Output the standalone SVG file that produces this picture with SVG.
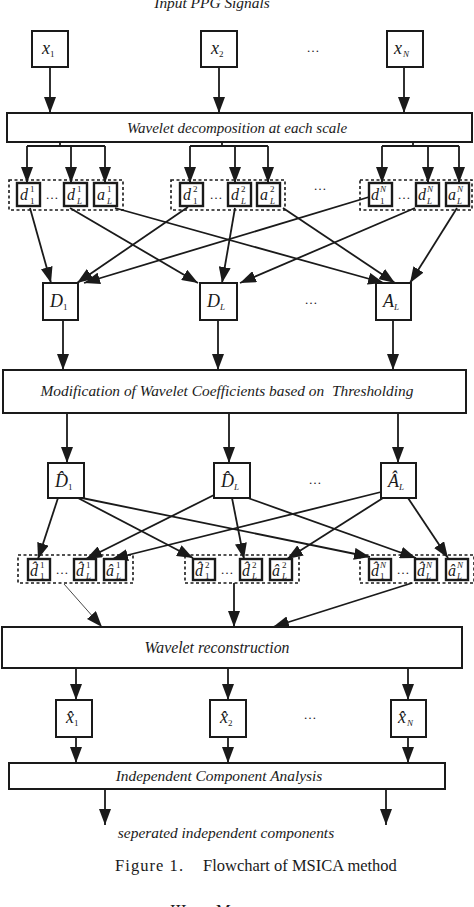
<svg xmlns="http://www.w3.org/2000/svg" width="474" height="907" viewBox="0 0 474 907">
<style>
.box{fill:#fff;stroke:#1a1a1a;stroke-width:2}
.cbox{fill:#fff;stroke:#1a1a1a;stroke-width:2.4}
.grp{fill:none;stroke:#1a1a1a;stroke-width:1.6;stroke-dasharray:3,2.5}
.ln{stroke:#1a1a1a;stroke-width:1.8;fill:none;marker-end:url(#ah)}
.thin{stroke:#1a1a1a;stroke-width:0.8;fill:none;marker-end:url(#ah)}
.br{stroke:#1a1a1a;stroke-width:1.8;fill:none}
.t{font-family:"Liberation Serif","DejaVu Serif",serif;font-style:italic;font-size:15.4px;fill:#1a1a1a}
.cap{font-family:"Liberation Serif","DejaVu Serif",serif;font-size:16.5px;fill:#1a1a1a}
.v{font-family:"Liberation Serif","DejaVu Serif",serif;font-style:italic;font-size:18px;fill:#1a1a1a}
.cv{font-family:"Liberation Serif","DejaVu Serif",serif;font-style:italic;font-size:16px;fill:#1a1a1a}
.s{font-family:"Liberation Serif","DejaVu Serif",serif;font-style:normal;font-size:9px}
.si{font-family:"Liberation Serif","DejaVu Serif",serif;font-style:italic;font-size:9px}
.dots{font-family:"Liberation Serif","DejaVu Serif",serif;font-size:13px;fill:#1a1a1a;text-anchor:middle}
</style>
<defs>
<marker id="ah" markerUnits="userSpaceOnUse" markerWidth="16" markerHeight="12" refX="16" refY="6" orient="auto">
<path d="M0,0 L16,6 L0,12 z" fill="#1a1a1a"/>
</marker>
</defs>

<text class="t" x="212" y="8" text-anchor="middle">Input PPG Signals</text>

<g id="connectors">
<line class="ln" x1="50" y1="67" x2="50" y2="113"/>
<line class="ln" x1="219" y1="67" x2="219" y2="113"/>
<line class="ln" x1="404" y1="67" x2="404" y2="113"/>
<polyline class="br" points="60,142 60,146"/>
<polyline class="br" points="27,146 105,146"/>
<line class="ln" x1="27" y1="146" x2="27" y2="183"/>
<line class="ln" x1="71" y1="146" x2="71" y2="183"/>
<line class="ln" x1="105" y1="146" x2="105" y2="183"/>
<polyline class="br" points="222,142 222,146"/>
<polyline class="br" points="190,146 268,146"/>
<line class="ln" x1="190" y1="146" x2="190" y2="183"/>
<line class="ln" x1="235" y1="146" x2="235" y2="183"/>
<line class="ln" x1="268" y1="146" x2="268" y2="183"/>
<polyline class="br" points="413,142 413,146"/>
<polyline class="br" points="382,146 459,146"/>
<line class="ln" x1="382" y1="146" x2="382" y2="183"/>
<line class="ln" x1="428" y1="146" x2="428" y2="183"/>
<line class="ln" x1="459" y1="146" x2="459" y2="183"/>

<line class="ln" x1="30" y1="208" x2="51" y2="283"/>
<line class="ln" x1="70" y1="208" x2="198" y2="283"/>
<line class="ln" x1="115" y1="208" x2="384" y2="283"/>
<line class="ln" x1="188" y1="207" x2="77" y2="283"/>
<line class="ln" x1="235" y1="208" x2="222" y2="283"/>
<line class="ln" x1="283" y1="208" x2="395" y2="283"/>
<line class="ln" x1="369" y1="197" x2="84" y2="283"/>
<line class="ln" x1="415" y1="208" x2="240" y2="283"/>
<line class="ln" x1="457" y1="208" x2="410" y2="283"/>

<line class="ln" x1="63" y1="320" x2="63" y2="370"/>
<line class="ln" x1="218" y1="320" x2="218" y2="370"/>
<line class="ln" x1="393" y1="320" x2="393" y2="370"/>

<line class="ln" x1="67" y1="413" x2="67" y2="463"/>
<line class="ln" x1="229" y1="413" x2="229" y2="463"/>
<line class="ln" x1="398" y1="413" x2="398" y2="463"/>

<line class="ln" x1="58" y1="498" x2="38" y2="559"/>
<line class="ln" x1="78" y1="498" x2="193" y2="558"/>
<line class="ln" x1="82" y1="498" x2="370" y2="557"/>
<line class="ln" x1="214" y1="495" x2="86" y2="559"/>
<line class="ln" x1="232" y1="498" x2="244" y2="559"/>
<line class="ln" x1="248" y1="498" x2="416" y2="558"/>
<line class="ln" x1="381" y1="492" x2="112" y2="559"/>
<line class="ln" x1="383" y1="498" x2="287" y2="559"/>
<line class="ln" x1="408" y1="498" x2="448" y2="558"/>

<line class="thin" x1="64" y1="584" x2="102" y2="627"/>
<line class="ln" x1="234" y1="583" x2="234" y2="627"/>
<line class="ln" x1="412" y1="583" x2="273" y2="627"/>

<line class="ln" x1="76" y1="668" x2="76" y2="700"/>
<line class="ln" x1="228" y1="668" x2="228" y2="700"/>
<line class="ln" x1="408" y1="668" x2="408" y2="700"/>
<line class="ln" x1="76" y1="737" x2="76" y2="763"/>
<line class="ln" x1="228" y1="737" x2="228" y2="763"/>
<line class="ln" x1="408" y1="737" x2="408" y2="763"/>
<line class="ln" x1="105" y1="789" x2="105" y2="825"/>
<line class="ln" x1="386" y1="789" x2="386" y2="825"/>
</g>

<g id="x1"><rect class="box" x="32" y="31" width="36" height="36"/><text class="v" x="42" y="54">x<tspan class="s" dy="3">1</tspan></text></g>
<g id="x2"><rect class="box" x="201" y="31" width="36" height="36"/><text class="v" x="211" y="54">x<tspan class="s" dy="3">2</tspan></text></g>
<text class="dots" x="313" y="52">…</text>
<g id="xN"><rect class="box" x="387" y="31" width="36" height="36"/><text class="v" x="394" y="54">x<tspan class="si" dx="1" dy="3">N</tspan></text></g>

<g id="decomp"><rect class="box" x="7" y="113" width="465" height="29"/><text class="t" x="237" y="133" text-anchor="middle" style="font-size:15px">Wavelet decomposition at each scale</text></g>

<g id="group1">
<rect class="grp" x="9" y="180" width="114" height="30"/>
<rect class="cbox" x="17" y="183" width="23" height="23"/><text class="cv" x="20" y="200">d<tspan class="s" x="30" y="192">1</tspan><tspan class="s" x="30" y="204">1</tspan></text>
<text class="dots" x="52" y="199">…</text>
<rect class="cbox" x="64" y="183" width="23" height="23"/><text class="cv" x="67" y="200">d<tspan class="s" x="77" y="192">1</tspan><tspan class="si" x="77" y="204">L</tspan></text>
<rect class="cbox" x="94" y="183" width="23" height="23"/><text class="cv" x="97" y="200">a<tspan class="s" x="107" y="192">1</tspan><tspan class="si" x="107" y="204">L</tspan></text>
</g>
<g id="group2">
<rect class="grp" x="171" y="180" width="114" height="30"/>
<rect class="cbox" x="180" y="183" width="23" height="23"/><text class="cv" x="183" y="200">d<tspan class="s" x="193" y="192">2</tspan><tspan class="s" x="193" y="204">1</tspan></text>
<text class="dots" x="216" y="199">…</text>
<rect class="cbox" x="228" y="183" width="23" height="23"/><text class="cv" x="231" y="200">d<tspan class="s" x="241" y="192">2</tspan><tspan class="si" x="241" y="204">L</tspan></text>
<rect class="cbox" x="257" y="183" width="23" height="23"/><text class="cv" x="260" y="200">a<tspan class="s" x="270" y="192">2</tspan><tspan class="si" x="270" y="204">L</tspan></text>
</g>
<text class="dots" x="320" y="190">…</text>
<g id="groupN">
<rect class="grp" x="360" y="180" width="112" height="30"/>
<rect class="cbox" x="369" y="183" width="23" height="23"/><text class="cv" x="371" y="200">d<tspan class="si" x="380" y="192">N</tspan><tspan class="s" x="380" y="204">1</tspan></text>
<text class="dots" x="404" y="199">…</text>
<rect class="cbox" x="416" y="183" width="23" height="23"/><text class="cv" x="418" y="200">d<tspan class="si" x="427" y="192">N</tspan><tspan class="si" x="427" y="204">L</tspan></text>
<rect class="cbox" x="446" y="183" width="23" height="23"/><text class="cv" x="448" y="200">a<tspan class="si" x="457" y="192">N</tspan><tspan class="si" x="457" y="204">L</tspan></text>
</g>

<g id="D1"><rect class="box" x="43" y="283" width="35" height="37"/><text class="v" x="50" y="307">D<tspan class="s" dy="3">1</tspan></text></g>
<g id="DL"><rect class="box" x="200" y="283" width="37" height="37"/><text class="v" x="207" y="307">D<tspan class="si" dy="3">L</tspan></text></g>
<text class="dots" x="311" y="304">…</text>
<g id="AL"><rect class="box" x="376" y="283" width="35" height="37"/><text class="v" x="383" y="307">A<tspan class="si" dy="3">L</tspan></text></g>

<g id="modify"><rect class="box" x="3" y="370" width="463" height="43"/><text class="t" x="227" y="396" text-anchor="middle" xml:space="preserve">Modification of Wavelet Coefficients based on  Thresholding</text></g>

<g id="D1hat"><rect class="box" x="48" y="463" width="36" height="35"/><text class="v" x="55" y="487">D̂<tspan class="s" dy="3">1</tspan></text></g>
<g id="DLhat"><rect class="box" x="214" y="463" width="36" height="35"/><text class="v" x="221" y="487">D̂<tspan class="si" dy="3">L</tspan></text></g>
<text class="dots" x="315" y="484">…</text>
<g id="ALhat"><rect class="box" x="381" y="463" width="35" height="35"/><text class="v" x="388" y="487">Â<tspan class="si" dy="3">L</tspan></text></g>

<g id="hgroup1">
<rect class="grp" x="18" y="555" width="115" height="28"/>
<rect class="cbox" x="28" y="559" width="22" height="21"/><text class="cv" x="30" y="576">d̂<tspan class="s" x="40" y="568">1</tspan><tspan class="s" x="40" y="579">1</tspan></text>
<text class="dots" x="62" y="574">…</text>
<rect class="cbox" x="74" y="559" width="22" height="21"/><text class="cv" x="76" y="576">d̂<tspan class="s" x="86" y="568">1</tspan><tspan class="si" x="86" y="579">L</tspan></text>
<rect class="cbox" x="104" y="559" width="22" height="21"/><text class="cv" x="106" y="576">â<tspan class="s" x="116" y="568">1</tspan><tspan class="si" x="116" y="579">L</tspan></text>
</g>
<g id="hgroup2">
<rect class="grp" x="185" y="555" width="114" height="28"/>
<rect class="cbox" x="193" y="559" width="22" height="21"/><text class="cv" x="195" y="576">d̂<tspan class="s" x="205" y="568">2</tspan><tspan class="s" x="205" y="579">1</tspan></text>
<text class="dots" x="227" y="574">…</text>
<rect class="cbox" x="240" y="559" width="22" height="21"/><text class="cv" x="242" y="576">d̂<tspan class="s" x="252" y="568">2</tspan><tspan class="si" x="252" y="579">L</tspan></text>
<rect class="cbox" x="270" y="559" width="22" height="21"/><text class="cv" x="272" y="576">â<tspan class="s" x="282" y="568">2</tspan><tspan class="si" x="282" y="579">L</tspan></text>
</g>
<g id="hgroupN">
<rect class="grp" x="360" y="555" width="114" height="28"/>
<rect class="cbox" x="369" y="559" width="22" height="21"/><text class="cv" x="371" y="576">d̂<tspan class="si" x="380" y="568">N</tspan><tspan class="s" x="380" y="579">1</tspan></text>
<text class="dots" x="403" y="574">…</text>
<rect class="cbox" x="415" y="559" width="22" height="21"/><text class="cv" x="417" y="576">d̂<tspan class="si" x="426" y="568">N</tspan><tspan class="si" x="426" y="579">L</tspan></text>
<rect class="cbox" x="446" y="559" width="22" height="21"/><text class="cv" x="448" y="576">â<tspan class="si" x="457" y="568">N</tspan><tspan class="si" x="457" y="579">L</tspan></text>
</g>

<g id="recon"><rect class="box" x="2" y="627" width="460" height="41"/><text class="t" x="217" y="653" text-anchor="middle" style="font-size:15.8px">Wavelet reconstruction</text></g>

<g id="x1hat"><rect class="box" x="56" y="700" width="36" height="37"/><text class="v" x="66" y="723">x̂<tspan class="s" dy="3">1</tspan></text></g>
<g id="x2hat"><rect class="box" x="210" y="700" width="36" height="37"/><text class="v" x="220" y="723">x̂<tspan class="s" dy="3">2</tspan></text></g>
<text class="dots" x="310" y="719">…</text>
<g id="xNhat"><rect class="box" x="391" y="700" width="35" height="37"/><text class="v" x="398" y="723">x̂<tspan class="si" dx="1" dy="3">N</tspan></text></g>

<g id="ica"><rect class="box" x="9" y="763" width="436" height="26"/><text class="t" x="219" y="781" text-anchor="middle">Independent Component Analysis</text></g>

<text class="t" x="226" y="838" text-anchor="middle">seperated independent components</text>
<text class="cap" x="115" y="871" textLength="68">Figure 1.</text>
<text class="cap" x="203" y="871">Flowchart of MSICA method</text>
<text class="cap" x="170" y="916">III.</text>
<text class="cap" x="216" y="916">M</text>
</svg>
